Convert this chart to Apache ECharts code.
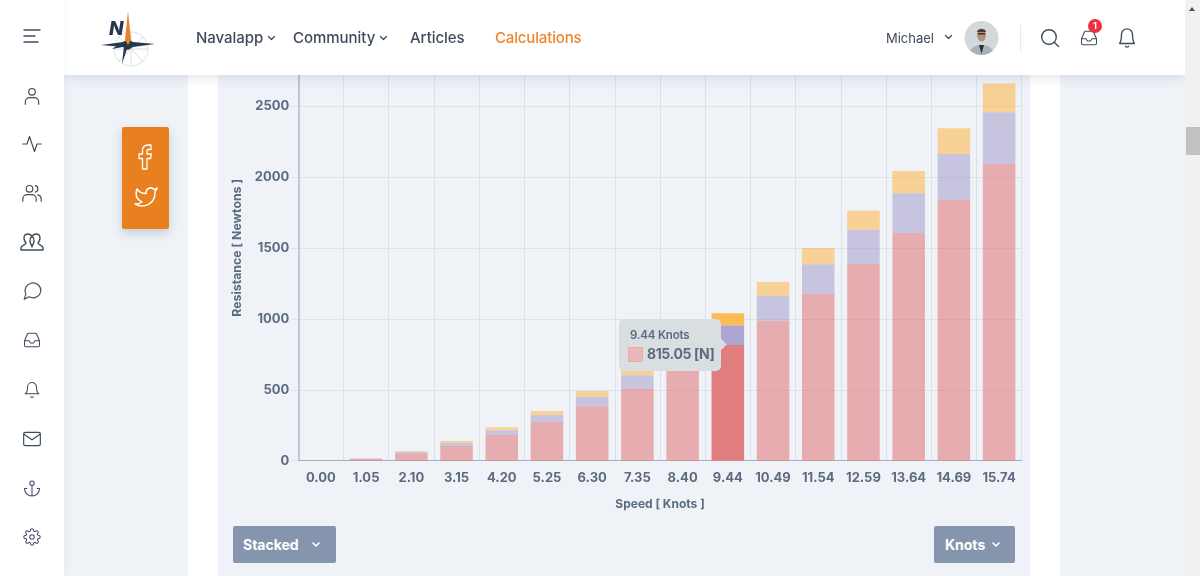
<!DOCTYPE html>
<html>
<head>
<meta charset="utf-8">
<title>Calculations</title>
<style>
    html, body { margin: 0; padding: 0; width: 1200px; height: 576px; overflow: hidden; background: #eff3f8; font-family: Inter, "Noto Sans", sans-serif; }
    .abs { position: absolute; }
    #column-left { left: 188px; top: 0; width: 30px; height: 576px; background: #fff; }
    #column-right { left: 1030px; top: 0; width: 30px; height: 576px; background: #fff; }
    #chart { position: absolute; left: 0; top: 0; width: 1200px; height: 576px; z-index: 1; }
    #sidebar { left: 0; top: 0; width: 64px; height: 576px; background: #fff; z-index: 6; box-shadow: 0 0 8px rgba(70, 90, 120, .08); }
    #header { left: 64px; top: 0; width: 1121px; height: 75px; background: #fff; z-index: 5; box-shadow: 0 2px 12px rgba(70, 90, 120, .18); }
    #scrollbar { left: 1185px; top: 0; width: 15px; height: 576px; background: #f1f1f1; z-index: 7; }
    #thumb { left: 1px; top: 127px; width: 14px; height: 28px; background: #c1c1c1; }
    #arrow-up { left: 4px; top: 7px; width: 0; height: 0; border-left: 3.5px solid transparent; border-right: 3.5px solid transparent; border-bottom: 4px solid #505050; }
    .nav { top: 28px; font-size: 15px; line-height: 20px; font-weight: 500; letter-spacing: -.03px; color: #3f4b5d; white-space: nowrap; }
    .icon { position: absolute; fill: none; stroke: #3f4b5d; stroke-width: 1.4; stroke-linecap: round; stroke-linejoin: round; }
    #social { left: 122px; top: 127px; width: 47px; height: 102px; background: #e8801f; border-radius: 2px; box-shadow: 0 4px 10px rgba(70, 90, 120, .25); z-index: 2; }
    .btn { top: 526px; height: 37px; line-height: 37px; background: #8595ad; border-radius: 2px; color: #fff; font-size: 14px; font-weight: 700; z-index: 2; box-sizing: border-box; }
    .btn svg { position: absolute; top: 14px; fill: none; stroke: #fff; stroke-width: 1.6; stroke-linecap: round; stroke-linejoin: round; }
</style>
</head>
<body>
<div id="column-left" class="abs"></div>
<div id="column-right" class="abs"></div>

<!-- chart -->
<div id="chart"></div>

<!-- left menu -->
<div id="sidebar" class="abs">
    <svg class="icon" style="left:22px;top:27px" width="20" height="18" viewBox="0 0 20 18"><path d="M2 3h16M2 9h11M2 15h14"/></svg>
    <svg class="icon" style="left:22px;top:86px" width="20" height="20" viewBox="0 0 24 24"><circle cx="12" cy="7" r="4"/><path d="M4 22v-3a5 5 0 0 1 5-5h6a5 5 0 0 1 5 5v3"/></svg>
    <svg class="icon" style="left:22px;top:134px" width="20" height="20" viewBox="0 0 24 24"><path d="M23 12h-5l-3 9L9 3l-3 9H1"/></svg>
    <svg class="icon" style="left:21px;top:183px" width="22" height="20" viewBox="0 0 24 24"><circle cx="9" cy="7" r="4"/><path d="M1 22v-3a5 5 0 0 1 5-5h6a5 5 0 0 1 5 5v3M16 3.1a4 4 0 0 1 0 7.8M23 22v-3a5 5 0 0 0-4-4.8"/></svg>
    <svg class="icon" style="left:20px;top:232px" width="24" height="20" viewBox="0 0 24 20"><path d="M8 2c-3 0-4 2-4 4 0 2 1 4 2 5 0 2-5 2-5 5v2h22v-2c0-3-5-3-5-5 1-1 2-3 2-5 0-2-1-4-4-4-2 0-3 1-4 2-1-1-2-2-4-2zM12 4c-1 1-2 3-2 5 0 3 2 4 2 6M12 4c1 1 2 3 2 5 0 3-2 4-2 6"/></svg>
    <svg class="icon" style="left:22px;top:281px" width="21" height="20" viewBox="0 0 24 24"><path d="M22 11a9.5 9.5 0 0 1-14 8l-6 3 2-6a9.5 9.5 0 1 1 18-5z"/></svg>
    <svg class="icon" style="left:23px;top:331px" width="18" height="18" viewBox="0 0 24 24"><path d="M2 13h6l2 3h4l2-3h6M5.5 5L2 13v6a2 2 0 0 0 2 2h16a2 2 0 0 0 2-2v-6l-3.500-8a2 2 0 0 0-2-2H7.500a2 2 0 0 0-2 2z"/></svg>
    <svg class="icon" style="left:23px;top:381px" width="18" height="18" viewBox="0 0 24 24"><path d="M18 8a6 6 0 0 0-12 0c0 7-3 9-3 9h18s-3-2-3-9M13.700 21a2 2 0 0 1-3.400 0"/></svg>
    <svg class="icon" style="left:22px;top:429px" width="20" height="20" viewBox="0 0 24 24"><rect x="2" y="4" width="20" height="16" rx="2"/><path d="M22 6l-10 7L2 6"/></svg>
    <svg class="icon" style="left:23px;top:479px" width="18" height="19" viewBox="0 0 24 24"><circle cx="12" cy="5" r="3"/><path d="M12 8v14M5 12H2a10 10 0 0 0 20 0h-3"/></svg>
    <svg class="icon" style="left:23px;top:528px" width="18" height="18" viewBox="0 0 24 24"><circle cx="12" cy="12" r="3"/><path d="M19.400 15a1.650 1.650 0 0 0 .33 1.820l.06.06a2 2 0 1 1-2.830 2.830l-.06-.06a1.650 1.650 0 0 0-2.820 1.170V21a2 2 0 1 1-4 0v-.09A1.650 1.650 0 0 0 7.200 19.700l-.06.06a2 2 0 1 1-2.830-2.830l.06-.06a1.650 1.650 0 0 0-1.170-2.820H3a2 2 0 1 1 0-4h.09A1.650 1.650 0 0 0 4.300 7.200l-.06-.06a2 2 0 1 1 2.830-2.830l.06.06a1.650 1.650 0 0 0 2.820-1.170V3a2 2 0 1 1 4 0v.09a1.650 1.650 0 0 0 2.820 1.170l.06-.06a2 2 0 1 1 2.830 2.830l-.06.06a1.650 1.650 0 0 0 1.170 2.820H21a2 2 0 1 1 0 4h-.09a1.650 1.650 0 0 0-1.510 1z"/></svg>
</div>

<!-- top bar -->
<div id="header" class="abs">
    <!-- logo -->
    <svg class="abs" style="left:34px;top:8px" width="60" height="60" viewBox="0 0 60 60">
        <g fill="none" stroke="#ccd3dc" stroke-width=".7">
            <ellipse cx="33" cy="41" rx="17" ry="17"/>
            <path d="M33 24v34M16 41h34M21 29l24 24M45 29L21 53"/>
        </g>
        <path d="M3 37l22-3 5-3 5 3 22 2-22 3-5 3-5-3z" fill="#26384f"/>
        <path d="M30 38l-6 18 2-18zM30 38l-7-3-9 6z" fill="#26384f"/>
        <path d="M30 3l-3 29 3 5 3-5z" fill="#ea8125"/>
        <text x="11" y="27" font-family="Inter, sans-serif" font-size="19" font-weight="800" font-style="italic" fill="#26384f">N</text>
    </svg>
    <div class="abs nav" style="left:132px">Navalapp</div>
    <svg class="icon" style="left:203px;top:34px;stroke-width:1.300" width="9" height="8" viewBox="0 0 9 8"><path d="M1.500 2.500L4.500 5.500 7.500 2.500"/></svg>
    <div class="abs nav" style="left:229px">Community</div>
    <svg class="icon" style="left:315px;top:34px;stroke-width:1.300" width="9" height="8" viewBox="0 0 9 8"><path d="M1.500 2.500L4.500 5.500 7.500 2.500"/></svg>
    <div class="abs nav" style="left:346px">Articles</div>
    <div class="abs nav" style="left:431px;color:#f0842c;letter-spacing:-.15px">Calculations</div>

    <div class="abs nav" style="left:822px;font-size:13px;font-weight:400">Michael</div>
    <svg class="icon" style="left:880px;top:33px;stroke-width:1.300" width="9" height="8" viewBox="0 0 9 8"><path d="M1.500 2.500L4.500 5.500 7.500 2.500"/></svg>
    <!-- avatar -->
    <svg class="abs" style="left:900px;top:20px" width="35" height="36" viewBox="0 0 35 36">
        <defs><clipPath id="round"><circle cx="17.500" cy="18" r="17"/></clipPath></defs>
        <g clip-path="url(#round)">
            <rect width="35" height="36" fill="#d3d8dc"/>
            <path d="M5 36c0-8 6-11 12.500-11S30 28 30 36z" fill="#aab2b9"/>
            <path d="M15 25l2.500 9 2.500-9z" fill="#2c3238"/>
            <ellipse cx="17.500" cy="15" rx="4.500" ry="6.500" fill="#b48f7b"/>
            <path d="M13 12c0-4 9-4 9 0z" fill="#4c3c33"/>
            <rect x="14" y="13" width="7" height="1.500" fill="#2c3238"/>
        </g>
    </svg>
    <div class="abs" style="left:956px;top:25px;width:1px;height:27px;background:#e6e9ee"></div>
    <svg class="icon" style="left:976px;top:28px" width="20" height="20" viewBox="0 0 20 20"><circle cx="9" cy="9" r="7.300"/><path d="M14.500 14.500L18.500 18.500"/></svg>
    <svg class="icon" style="left:1016px;top:29px" width="18" height="18" viewBox="0 0 24 24"><path d="M2 13h6l2 3h4l2-3h6M5.500 5L2 13v6a2 2 0 0 0 2 2h16a2 2 0 0 0 2-2v-6l-3.500-8a2 2 0 0 0-2-2H7.500a2 2 0 0 0-2 2z"/></svg>
    <div class="abs" style="left:1024px;top:19px;width:14px;height:14px;border-radius:7px;background:#f0303f;color:#fff;font-size:9px;font-weight:700;line-height:14px;text-align:center">1</div>
    <svg class="icon" style="left:1052px;top:27px;stroke-width:1.500" width="22" height="22" viewBox="0 0 24 24"><path d="M18 8a6 6 0 0 0-12 0c0 7-2 10-2 10h16s-2-3-2-10M13.700 21a2 2 0 0 1-3.400 0"/></svg>
</div>

<!-- share box -->
<div id="social" class="abs">
    <svg class="abs" style="left:14px;top:16px;fill:none;stroke:#fff;stroke-width:1.300;stroke-linejoin:round" width="20" height="28" viewBox="0 0 20 28"><path d="M15 2h-3.500a5 5 0 0 0-5 5v4H3v4.500h3.500V26H11V15.500h3.500L15.500 11H11V7.500A1.200 1.200 0 0 1 12 6.500h3z"/></svg>
    <svg class="abs" style="left:10px;top:58px;fill:none;stroke:#fff;stroke-width:1.500;stroke-linejoin:round" width="28" height="24" viewBox="0 0 24 24"><path d="M23 3a10.900 10.900 0 0 1-3 1.500 4.500 4.500 0 0 0-7.900 3v1A10.700 10.700 0 0 1 3 4s-4 9 5 13a11.600 11.600 0 0 1-7 2c9 5 20 0 20-11.500a4.500 4.500 0 0 0-.08-.83A7.700 7.700 0 0 0 23 3z"/></svg>
</div>

<!-- chart controls -->
<div class="abs btn" style="left:233px;width:103px;padding-left:10px">Stacked
    <svg style="left:78px" width="10" height="9" viewBox="0 0 10 9"><path d="M2 3l3 3 3-3"/></svg>
</div>
<div class="abs btn" style="left:934px;width:81px;padding-left:11px">Knots
    <svg style="left:57px" width="10" height="9" viewBox="0 0 10 9"><path d="M2 3l3 3 3-3"/></svg>
</div>

<div id="scrollbar" class="abs">
    <div id="arrow-up" class="abs"></div>
    <div id="thumb" class="abs"></div>
</div>

<script src="https://cdn.jsdelivr.net/npm/echarts@6/dist/echarts.min.js"></script>
<script type="text/javascript">
    // values
    var speeds = ['0.00', '1.05', '2.10', '3.15', '4.20', '5.25', '6.30', '7.35', '8.40', '9.44', '10.49', '11.54', '12.59', '13.64', '14.69', '15.74'];
    var redValues = [0, 14, 52, 103, 181, 273, 383, 510, 655, 815.05, 987, 1178, 1386, 1604, 1839, 2093];
    var purpleValues = [0, 1, 9, 22, 33, 49, 68, 92, 120, 139, 174, 207, 240, 280, 322, 362];
    var orangeValues = [0, 1, 5, 14, 21, 28, 40, 48, 60, 85, 98, 114, 136, 158, 182, 205];
    var activeIndex = 9;

    var labelColor = '#5d6b80';

    function barSeries(values, color) {
        return {
            type: 'bar',
            stack: 'total',
            barWidth: '72%',
            data: values,
            itemStyle: { color: color, opacity: 0.6 },
            emphasis: { itemStyle: { color: color, opacity: 1 } }
        };
    }

    var myChart = echarts.init(document.getElementById('chart'));

    myChart.setOption({
        animation: false,
        backgroundColor: 'transparent',
        textStyle: { fontFamily: 'Inter' },
        // the top of the plot runs on under the page header
        grid: { left: 298.3, right: 178.3, top: 35, bottom: 115.3 },
        tooltip: {
            trigger: 'item',
            triggerOn: 'none',
            alwaysShowContent: true,
            transitionDuration: 0,
            position: [619, 319],
            padding: 0,
            borderWidth: 0,
            backgroundColor: 'transparent',
            extraCssText: 'box-shadow:none;',
            formatter: function (p) {
                return '<div style="position:relative;box-sizing:border-box;width:102px;height:52px;padding:8px 0 0 11px;background:#d9dee0;border-radius:5px;font-family:Inter;color:' + labelColor + '">' +
                    '<div style="font-size:11.5px;line-height:16px;font-weight:600;letter-spacing:-.2px">' + p.name + ' Knots</div>' +
                    '<div style="font-size:14px;line-height:20px;font-weight:700;letter-spacing:-.4px;margin-top:1px;white-space:nowrap">' +
                    '<span style="display:inline-block;box-sizing:border-box;width:15px;height:15px;margin:0 4px 0 -2px;vertical-align:-3px;background:#ecb7b8;border:1px solid #f4a6a5"></span>' +
                    p.value + ' [N]</div>' +
                    '<div style="position:absolute;right:-4px;top:21px;width:9px;height:9px;background:#d9dee0;transform:rotate(45deg)"></div>' +
                    '</div>';
            }
        },
        xAxis: {
            type: 'category',
            data: speeds,
            name: 'Speed [ Knots ]',
            nameLocation: 'middle',
            nameGap: 38,
            nameTextStyle: { color: labelColor, fontSize: 12, fontWeight: 700 },
            axisLine: { lineStyle: { color: '#a7afbc' } },
            axisTick: { length: 9, lineStyle: { color: '#c9cfd9' } },
            axisLabel: { color: labelColor, fontSize: 13, fontWeight: 700, margin: 11, interval: 0 },
            splitLine: { show: true, lineStyle: { color: '#dbe0e8' } }
        },
        yAxis: {
            type: 'value',
            min: 0,
            max: 3000,
            interval: 500,
            name: 'Resistance [ Newtons ]',
            nameLocation: 'middle',
            nameGap: 54,
            nameTextStyle: { color: labelColor, fontSize: 12.3, fontWeight: 700 },
            axisLine: { show: true, lineStyle: { color: '#b4bbc7', width: 1.5 } },
            axisTick: { show: true, length: 7, lineStyle: { color: '#dde2e9' } },
            axisLabel: {
                color: labelColor,
                fontSize: 13,
                fontWeight: 700,
                margin: 9,
                formatter: function (v) { return String(v); }
            },
            splitLine: { lineStyle: { color: '#dde2e9' } }
        },
        series: [
            barSeries(redValues, '#e07d7e'),
            barSeries(purpleValues, '#aca5d1'),
            barSeries(orangeValues, '#fcbb55')
        ]
    });

    // hovered column with its tooltip
    myChart.dispatchAction({ type: 'highlight', seriesIndex: [0, 1, 2], dataIndex: activeIndex });
    myChart.dispatchAction({ type: 'showTip', seriesIndex: 0, dataIndex: activeIndex });
</script>
</body>
</html>
